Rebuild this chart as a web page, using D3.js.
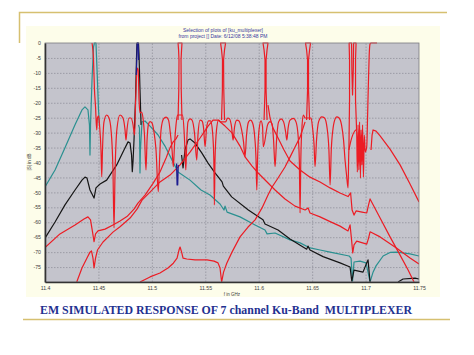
<!DOCTYPE html>
<html><head><meta charset="utf-8">
<script src="https://cdn.jsdelivr.net/npm/d3@7"></script>
<style>body{margin:0;background:#fff}svg{display:block}</style>
</head><body><svg id="c" width="474" height="355"></svg>
<script>
// ---- data (frequency in GHz, |S| in dB) ----
const xTicks = [11.4, 11.45, 11.5, 11.55, 11.6, 11.65, 11.7, 11.75];
const yTicks = [0, -5, -10, -15, -20, -25, -30, -35, -40, -45, -50, -55, -60, -65, -70, -75];
const titleLines = ["Selection of plots of [ku_multiplexer]", "from project []    Date: 6/12/08 5:38:48 PM"];
const xLabel = "f in GHz";
const yLabel = "|S| in dB";
const caption = "EM SIMULATED RESPONSE OF 7 channel Ku-Band  MULTIPLEXER";

const tealA = [[11.4000,-48.2],[11.4094,-42.5],[11.4187,-35.1],[11.4281,-27.4],[11.4346,-22.4],[11.4374,-21.4],[11.4402,-22.4],[11.4416,-27.4],[11.4421,-37.5],[11.4426,-27.4],[11.4440,-12.4],[11.4454,-1.3],[11.4463,0],[11.4477,0],[11.4487,-9.0],[11.4501,-22.4],[11.4510,-27.4]];
const tealB = [[11.4875,-27.4],[11.4884,-28.5],[11.4889,-43.5],[11.4893,-35.8],[11.4908,-26.4],[11.4936,-26.1],[11.4983,-27.8],[11.5058,-30.8],[11.5123,-34.5],[11.5189,-39.2],[11.5245,-43.2],[11.5357,-45.9],[11.5460,-49.2],[11.5544,-50.9],[11.5638,-53.9],[11.5675,-55.9],[11.5685,-54.6],[11.5704,-56.6],[11.5825,-58.2],[11.5966,-60.9],[11.6059,-62.6],[11.6078,-63.9],[11.6153,-63.6],[11.6293,-65.9],[11.6387,-66.9],[11.6480,-68.6],[11.6574,-69.3],[11.6668,-70.0],[11.6846,-71.3],[11.6864,-72.0],[11.6878,-79.7],[11.6892,-73.3],[11.6948,-73.0],[11.7004,-73.6],[11.7023,-76.7],[11.7042,-80],[11.7070,-76.7],[11.7098,-74.6],[11.7164,-71.3],[11.7229,-70.1],[11.7295,-70.0],[11.7416,-70.6],[11.7500,-71.3]];

const blackA = [[11.4000,-65.3],[11.4094,-59.9],[11.4187,-54.2],[11.4281,-49.2],[11.4346,-45.9],[11.4374,-44.9],[11.4393,-45.2],[11.4421,-49.2],[11.4459,-51.9],[11.4477,-48.5],[11.4515,-47.2],[11.4577,-45.9],[11.4671,-40.8],[11.4739,-35.8],[11.4777,-33.1],[11.4796,-33.5],[11.4810,-37.5],[11.4817,-43.1],[11.4824,-39.5],[11.4833,-32.5],[11.4847,-19.1],[11.4857,-4.0],[11.4861,0],[11.4875,0],[11.4880,-4.0],[11.4889,-15.7],[11.4899,-27.4]];
const blackB = [[11.5278,-37.5],[11.5292,-41.8],[11.5310,-35.8],[11.5338,-32.5],[11.5357,-32.1],[11.5404,-33.5],[11.5467,-36.8],[11.5526,-40.2],[11.5591,-43.5],[11.5657,-46.5],[11.5669,-47.9],[11.5747,-51.5],[11.5903,-55.9],[11.6040,-59.2],[11.6059,-60.6],[11.6181,-62.6],[11.6293,-65.6],[11.6449,-69.0],[11.6461,-68.0],[11.6480,-69.3],[11.6602,-71.5],[11.6761,-73.6],[11.6855,-75.0],[11.6871,-79.7],[11.6892,-76.0],[11.6976,-76.7],[11.7014,-73.3],[11.7023,-72.6],[11.7042,-80]];
const blackC = [[11.7304,-80],[11.7351,-79.0],[11.7463,-78.7],[11.7500,-79.0]];

const navyA = [[11.4854,-10.7],[11.4859,-5.7],[11.4863,0],[11.4872,0],[11.4876,-5.7]];
const navyB = [[11.5231,-40.3],[11.5236,-47.5],[11.5242,-47.5],[11.5247,-40.8]];

const redS11 = [[11.4440,0],[11.4454,-5.7],[11.4463,-15.7],[11.4473,-21.4],[11.4484,-29.1],[11.4491,-25.1],[11.4501,-24.4],[11.4510,-27.4],[11.4524,-35.8],[11.4531,-44.8],[11.4538,-35.8],[11.4552,-26.4],[11.4577,-24.1],[11.4599,-25.1],[11.4618,-29.1],[11.4636,-42.5],[11.4646,-61.9],[11.4655,-44.2],[11.4674,-28.5],[11.4702,-24.1],[11.4730,-25.1],[11.4749,-29.1],[11.4758,-32.5],[11.4767,-29.1],[11.4786,-25.1],[11.4805,-25.1],[11.4824,-27.4],[11.4838,-30.8],[11.4847,-20.8],[11.4857,-10.7],[11.4864,-8.4],[11.4872,-9.0],[11.4880,-19.1],[11.4889,-23.4],[11.4903,-23.1],[11.4917,-25.1],[11.4931,-30.8],[11.4945,-42.5],[11.4955,-32.5],[11.4969,-27.1],[11.4983,-26.3],[11.5002,-26.8],[11.5020,-29.8],[11.5039,-35.8],[11.5060,-49.8],[11.5072,-39.2],[11.5086,-29.1],[11.5109,-25.4],[11.5133,-24.8],[11.5156,-25.8],[11.5175,-30.8],[11.5189,-35.8],[11.5201,-41.4],[11.5212,-34.1],[11.5226,-27.4],[11.5240,-24.1],
[11.5287,-24.1],[11.5301,-29.1],[11.5310,-35.8],[11.5318,-42.5],[11.5327,-32.5],[11.5338,-26.4],[11.5357,-25.4],[11.5376,-25.8],[11.5399,-30.1],[11.5420,-39.2],[11.5432,-30.5],[11.5451,-25.8],[11.5470,-26.1],[11.5484,-28.5],[11.5498,-34.7],[11.5512,-28.5],[11.5531,-26.1],[11.5549,-26.1],[11.5568,-29.8],[11.5580,-39.2],[11.5585,-54.2],[11.5591,-39.2],[11.5605,-29.1],[11.5624,-25.8],[11.5643,-26.4],
[11.5690,-26.4],[11.5709,-25.1],[11.5727,-25.4],[11.5746,-28.1],[11.5760,-32.5],[11.5774,-28.1],[11.5795,-25.8],[11.5816,-26.1],[11.5840,-29.1],[11.5858,-33.1],[11.5872,-38.1],[11.5886,-30.8],[11.5905,-26.4],[11.5924,-25.8],[11.5943,-26.8],[11.5961,-30.8],[11.5975,-39.2],[11.5982,-49.2],[11.5989,-39.2],[11.6003,-29.1],[11.6022,-26.1],[11.6036,-28.1],[11.6043,-34.7],
[11.6083,-27.4],[11.6106,-26.3],[11.6125,-27.1],[11.6139,-32.5],[11.6153,-41.4],[11.6167,-32.5],[11.6186,-26.4],[11.6210,-25.4],[11.6233,-26.4],[11.6252,-29.8],[11.6263,-32.5],[11.6275,-28.5],[11.6293,-25.8],[11.6324,-25.2],[11.6349,-26.4],[11.6368,-30.8],[11.6380,-39.2],[11.6387,-56.9],[11.6394,-39.2],[11.6406,-27.4],[11.6418,-24.1],[11.6434,-25.1],
[11.6490,-25.1],[11.6504,-28.5],[11.6518,-34.1],[11.6527,-41.4],[11.6541,-32.5],[11.6560,-26.4],[11.6590,-24.7],[11.6616,-25.1],[11.6640,-28.5],[11.6657,-35.8],[11.6668,-47.5],[11.6679,-35.8],[11.6696,-28.5],[11.6719,-25.1],[11.6730,-24.7],[11.6752,-25.1],[11.6775,-27.4],[11.6794,-32.5],[11.6808,-39.2],[11.6822,-44.2],[11.6836,-48.5],[11.6844,-35.8],
[11.6916,-29.1],[11.6923,-43.2],[11.6930,-27.4],[11.6937,-42.5],[11.6944,-26.4],[11.6952,-45.2],[11.6958,-29.1],[11.6966,-40.8],[11.6972,-27.4],[11.6980,-44.9],[11.6988,-30.8],[11.6997,-36.5],[11.7011,-34.7],[11.7018,-25.8],[11.7026,-14.1],[11.7034,-4.0],[11.7042,-0.3],[11.7051,0],[11.7107,0]];

const redCh3 = [[11.5245,-25.8],[11.5252,-15.7],[11.5254,-5.7],[11.5250,-2.3],[11.5245,0],[11.5282,0],[11.5278,-2.3],[11.5273,-5.7],[11.5275,-15.7],[11.5282,-25.8]];
const redCh4 = [[11.5652,-25.8],[11.5660,-15.7],[11.5661,-5.7],[11.5652,-2.3],[11.5643,0],[11.5690,0],[11.5680,-2.3],[11.5671,-5.7],[11.5673,-15.7],[11.5680,-25.8]];
const redCh5 = [[11.6050,-25.8],[11.6059,-15.7],[11.6059,-5.7],[11.6050,-2.3],[11.6040,0],[11.6087,0],[11.6078,-2.3],[11.6069,-5.7],[11.6069,-15.7],[11.6078,-25.8]];
const redCh6 = [[11.6448,-25.8],[11.6457,-15.7],[11.6457,-5.7],[11.6448,-2.3],[11.6438,0],[11.6485,0],[11.6476,-2.3],[11.6466,-5.7],[11.6466,-15.7],[11.6476,-25.8]];
const redCh7 = [[11.6844,-35.8],[11.6850,-19.1],[11.6850,-5.7],[11.6846,0],[11.6869,0],[11.6872,-9.0],[11.6878,-17.4],[11.6885,-9.0],[11.6888,0],[11.6911,0],[11.6906,-5.7],[11.6906,-19.1],[11.6916,-29.1]];

const redSkirt1 = [[11.4000,-68.5],[11.4140,-63.9],[11.4281,-60.9],[11.4365,-58.9],[11.4402,-58.2],[11.4426,-59.2],[11.4445,-63.3],[11.4459,-66.5],[11.4473,-63.9],[11.4496,-62.9],[11.4562,-62.3],[11.4636,-60.9],[11.4702,-59.6],[11.4767,-58.1],[11.4833,-55.6],[11.4870,-53.6],[11.4936,-50.9],[11.5011,-47.0],[11.5076,-43.2],[11.5133,-38.5],[11.5170,-35.1],[11.5201,-33.0],[11.5226,-32.1],[11.5245,-30.8]];
const redSkirt2 = [[11.4297,-80],[11.4346,-75.3],[11.4393,-72.0],[11.4421,-70.0],[11.4435,-69.6],[11.4449,-72.0],[11.4459,-75.3],[11.4473,-72.0],[11.4491,-69.3],[11.4543,-66.6],[11.4580,-65.3],[11.4636,-63.3],[11.4702,-61.5],[11.4796,-58.6],[11.4861,-55.6],[11.4908,-52.6],[11.4983,-49.9],[11.5076,-46.5],[11.5170,-44.2],[11.5264,-40.8],[11.5357,-36.5],[11.5451,-31.8],[11.5526,-27.8],[11.5572,-25.8],[11.5619,-25.8],[11.5685,-27.8],[11.5750,-30.1],[11.5825,-34.5],[11.5872,-38.1],[11.5938,-41.2],[11.5997,-43.6],[11.6069,-46.2],[11.6153,-49.2],[11.6246,-52.2],[11.6340,-54.6],[11.6434,-55.9],[11.6462,-55.2],[11.6480,-56.9],[11.6574,-58.2],[11.6668,-59.8],[11.6761,-61.3],[11.6836,-62.9],[11.6855,-60.9],[11.6869,-65.9],[11.6880,-70.3],[11.6892,-67.6],[11.6917,-66.3],[11.7011,-67.3],[11.7028,-65.3],[11.7042,-63.2],[11.7136,-64.9],[11.7292,-68.7],[11.7416,-72.0],[11.7500,-74.0]];
const redSkirt3 = [[11.4889,-80],[11.4983,-78.3],[11.5076,-77.0],[11.5151,-75.3],[11.5201,-73.7],[11.5236,-72.0],[11.5254,-69.3],[11.5264,-68.3],[11.5278,-69.9],[11.5292,-72.0],[11.5327,-72.3],[11.5404,-72.6],[11.5516,-72.6],[11.5582,-73.0],[11.5619,-73.6],[11.5638,-75.3],[11.5653,-80],[11.5671,-76.7],[11.5701,-73.7],[11.5750,-70.0],[11.5825,-64.9],[11.5900,-61.6],[11.5966,-59.2],[11.6031,-55.2],[11.6087,-50.9],[11.6125,-48.2],[11.6181,-45.2],[11.6246,-41.5],[11.6293,-38.2],[11.6340,-34.8],[11.6387,-31.5],[11.6415,-28.5],[11.6434,-26.4]];
const redSkirt4 = [[11.6087,-20.8],[11.6106,-25.1],[11.6134,-28.5],[11.6181,-31.8],[11.6237,-35.8],[11.6293,-39.5],[11.6387,-42.5],[11.6480,-44.9],[11.6574,-46.5],[11.6668,-48.5],[11.6761,-50.2],[11.6836,-51.4],[11.6860,-50.2],[11.6874,-55.9],[11.6892,-57.6],[11.6911,-56.2],[11.6967,-56.6],[11.7011,-56.9],[11.7028,-54.2],[11.7042,-52.2],[11.7136,-58.6],[11.7229,-64.9],[11.7323,-71.0],[11.7398,-76.0],[11.7444,-79.3],[11.7454,-80]];
const redSkirt5 = [[11.7051,-35.8],[11.7061,-30.8],[11.7070,-29.1],[11.7098,-29.5],[11.7136,-31.1],[11.7229,-35.5],[11.7323,-40.8],[11.7416,-47.2],[11.7500,-53.2]];

// ---- drawing ----
const svg = d3.select("#c");
const W = 474, H = 355;
const plot = {l: 45, r: 419, t: 43, b: 282};
const x = d3.scaleLinear().domain([11.4, 11.75]).range([plot.l, plot.r]);
const y = d3.scaleLinear().domain([0, -80]).range([plot.t, plot.b]);

svg.append("rect").attr("width", W).attr("height", H).attr("fill", "#ffffff");
svg.append("rect").attr("x", 26).attr("y", 26).attr("width", 414).attr("height", 271).attr("fill", "#fdfdea");
const gold = "#d6c070";
svg.append("path").attr("d", `M19.5,43 V12.5 H447`).attr("fill", "none").attr("stroke", gold).attr("stroke-width", 1.5);
svg.append("line").attr("x1", 23).attr("x2", 450).attr("y1", 319.5).attr("y2", 319.5).attr("stroke", gold).attr("stroke-width", 1.5);

svg.selectAll("text.title").data(titleLines).join("text")
  .attr("x", 223).attr("y", (d, i) => 32 + i * 5.8)
  .attr("text-anchor", "middle").attr("font-family", "Liberation Sans, Arial, sans-serif")
  .attr("font-size", 5).attr("fill", "#3838a0").text(d => d);

svg.append("rect").attr("x", plot.l).attr("y", plot.t).attr("width", plot.r - plot.l).attr("height", plot.b - plot.t).attr("fill", "#c4c4cc");

const gridStyle = g => { g.select(".domain").remove(); g.selectAll("line").attr("stroke", "#92929c").attr("stroke-width", 0.8).attr("stroke-dasharray", "1.5,1.5"); g.selectAll("text").remove(); };
svg.append("g").attr("transform", `translate(${plot.l},0)`)
  .call(d3.axisLeft(y).tickValues(yTicks.filter(d => d !== 0)).tickSize(-(plot.r - plot.l))).call(gridStyle);
svg.append("g").attr("transform", `translate(0,${plot.b})`)
  .call(d3.axisBottom(x).tickValues(xTicks.slice(1, -1)).tickSize(-(plot.b - plot.t))).call(gridStyle);

svg.append("clipPath").attr("id", "pc").append("rect").attr("x", plot.l).attr("y", plot.t - 1).attr("width", plot.r - plot.l).attr("height", plot.b - plot.t + 1);
const line = d3.line().x(d => x(d[0])).y(d => y(d[1]));
const smooth = d3.line().x(d => x(d[0])).y(d => y(d[1])).curve(d3.curveMonotoneX);
const cg = svg.append("g").attr("clip-path", "url(#pc)");
const red = "#ec1c24", teal = "#2a9090", black = "#151515", navy = "#1c1c90";
const series = [
  [tealA, teal, line], [tealB, teal, line],
  [blackA, black, line], [blackB, black, line], [blackC, black, line],
  [redSkirt1, red, line], [redSkirt2, red, line], [redSkirt3, red, line], [redSkirt4, red, line], [redSkirt5, red, line],
  [redS11, red, smooth], [redCh3, red, line], [redCh4, red, line], [redCh5, red, line], [redCh6, red, line], [redCh7, red, line],
  [navyA, navy, line], [navyB, navy, line]
];
cg.selectAll("path.s").data(series).join("path").attr("class", "s")
  .attr("d", d => d[2](d[0])).attr("fill", "none").attr("stroke", d => d[1])
  .attr("stroke-width", 1.2).attr("stroke-linejoin", "round");

svg.append("rect").attr("x", plot.l).attr("y", plot.t).attr("width", plot.r - plot.l).attr("height", plot.b - plot.t)
  .attr("fill", "none").attr("stroke", "#7a7a80").attr("stroke-width", 0.8);

const axisStyle = g => { g.select(".domain").attr("stroke", "#333").attr("stroke-width", 1.6); g.selectAll("line").remove();
  g.selectAll("text").attr("font-family", "Liberation Sans, Arial, sans-serif").attr("font-size", 5.2).attr("fill", "#404040"); };
svg.append("g").attr("transform", `translate(${plot.l},0)`)
  .call(d3.axisLeft(y).tickValues(yTicks).tickSize(0).tickPadding(4).tickFormat(d => String(d)).tickSizeOuter(0)).call(axisStyle);
svg.append("g").attr("transform", `translate(0,${plot.b})`)
  .call(d3.axisBottom(x).tickValues(xTicks).tickSize(0).tickPadding(4).tickFormat(d => String(d)).tickSizeOuter(0)).call(axisStyle);

svg.append("text").attr("x", 232).attr("y", 296).attr("text-anchor", "middle")
  .attr("font-family", "Liberation Sans, Arial, sans-serif").attr("font-size", 4.5).attr("fill", "#404040").text(xLabel);
svg.append("text").attr("transform", "translate(31,162) rotate(-90)").attr("text-anchor", "middle")
  .attr("font-family", "Liberation Sans, Arial, sans-serif").attr("font-size", 4.5).attr("fill", "#404040").text(yLabel);

svg.append("text").attr("x", 40).attr("y", 313.5).attr("font-family", "Liberation Serif, Times New Roman, serif")
  .attr("font-weight", "bold").attr("font-size", 12).attr("fill", "#1f3190")
  .attr("textLength", 372).attr("lengthAdjust", "spacingAndGlyphs").style("white-space", "pre").text(caption);
</script></body></html>
